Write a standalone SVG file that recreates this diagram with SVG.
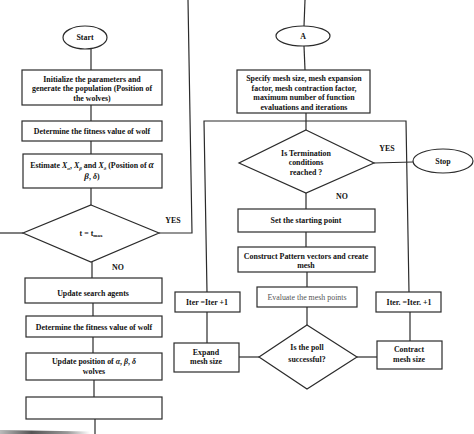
<svg xmlns="http://www.w3.org/2000/svg" width="474" height="434" viewBox="0 0 474 434">
<defs>
<style>
.s{fill:none;stroke:#2b2b2b;stroke-width:1.2}
.b{fill:#fff;stroke:#2b2b2b;stroke-width:1.2}
.t{font-family:"Liberation Serif","Times New Roman",serif;font-weight:bold;font-size:7.9px;text-anchor:middle;fill:#111}
.n{font-weight:normal;fill:#555}
.i{font-style:italic}
.sub{font-size:5px}
</style>
<linearGradient id="sh" x1="0" y1="0" x2="1" y2="0">
<stop offset="0" stop-color="#bbb"/>
<stop offset="0.35" stop-color="#555"/>
<stop offset="0.75" stop-color="#999"/>
<stop offset="1" stop-color="#fff"/>
</linearGradient>
</defs>
<rect width="474" height="434" fill="#fff"/>
<polygon points="0,430 90,431.5 90,434 0,434" fill="url(#sh)"/>

<g id="connectors" class="s">
<line x1="91" y1="49" x2="91" y2="70"/>
<line x1="91" y1="105" x2="91" y2="121"/>
<line x1="91" y1="141" x2="91" y2="154"/>
<line x1="91" y1="188" x2="91" y2="205"/>
<line x1="0" y1="233" x2="23" y2="233"/>
<polyline points="159,233 192,233 188,0"/>
<line x1="92" y1="262" x2="92" y2="278"/>
<line x1="93" y1="303" x2="93" y2="316"/>
<line x1="93" y1="337" x2="93" y2="353"/>
<line x1="94" y1="380" x2="94" y2="397"/>
<line x1="95" y1="419" x2="95" y2="434"/>

<line x1="305" y1="0" x2="304" y2="26"/>
<line x1="304" y1="46" x2="305" y2="70"/>
<line x1="306" y1="113" x2="306" y2="130"/>
<polyline points="207,292 204,121 406,121 409,292"/>
<line x1="374" y1="163" x2="413" y2="162"/>
<line x1="306" y1="193" x2="306" y2="209"/>
<line x1="306" y1="232" x2="306" y2="247"/>
<line x1="307" y1="272" x2="307" y2="287"/>
<line x1="307" y1="307" x2="307" y2="325"/>
<line x1="259" y1="357" x2="239" y2="357"/>
<line x1="357" y1="357" x2="377" y2="357"/>
<line x1="207" y1="312" x2="207" y2="343"/>
<line x1="410" y1="312" x2="410" y2="341"/>
</g>

<g id="start">
<ellipse class="b" cx="85" cy="37.5" rx="22" ry="11.5"/>
<text class="t" x="85" y="40">Start</text>
</g>
<g id="init">
<rect class="b" x="22" y="70" width="140" height="35"/>
<text class="t" x="92" y="81.5">Initialize the parameters and</text>
<text class="t" x="92" y="91">generate the population (Position of</text>
<text class="t" x="92" y="100.5">the wolves)</text>
</g>
<g id="fitness1">
<rect class="b" x="22" y="121" width="140" height="20"/>
<text class="t" x="92" y="133.5">Determine the fitness value of wolf</text>
</g>
<g id="estimate">
<rect class="b" x="23" y="154" width="139" height="34"/>
<text class="t" x="92" y="168">Estimate <tspan class="i">X</tspan><tspan class="sub i" dy="1.5">α</tspan><tspan dy="-1.5">, </tspan><tspan class="i">X</tspan><tspan class="sub i" dy="1.5">β</tspan><tspan dy="-1.5"> and </tspan><tspan class="i">X</tspan><tspan class="sub i" dy="1.5">δ</tspan><tspan dy="-1.5"> (Position of </tspan><tspan class="i" font-size="9.5">α</tspan></text>
<text class="t" x="92" y="179"><tspan class="i" font-size="9">β</tspan>, <tspan class="i">δ</tspan>)</text>
</g>
<g id="tmax">
<polygon class="b" points="91,205 159,233 91,262 23,233"/>
<text class="t" x="91" y="235.5" font-size="6.5">t = t<tspan class="sub" dy="1.5">max</tspan></text>
<text class="t" x="173" y="223">YES</text>
<text class="t" x="118" y="270">NO</text>
</g>
<g id="update">
<rect class="b" x="25" y="278" width="137" height="25"/>
<text class="t" x="93" y="295.5">Update search agents</text>
</g>
<g id="fitness2">
<rect class="b" x="26" y="316" width="136" height="21"/>
<text class="t" x="94" y="329.5">Determine the fitness value of wolf</text>
</g>
<g id="position">
<rect class="b" x="26" y="353" width="136" height="27"/>
<text class="t" x="94" y="364">Update position of <tspan class="i">α</tspan>, <tspan class="i">β</tspan>, <tspan class="i">δ</tspan></text>
<text class="t" x="94" y="374">wolves</text>
</g>
<g id="empty">
<rect class="b" x="26" y="397" width="136" height="22"/>
</g>

<g id="a">
<ellipse class="b" cx="303" cy="36" rx="27" ry="10"/>
<text class="t" x="303" y="38.5">A</text>
</g>
<g id="specify">
<rect class="b" x="237" y="70" width="133" height="43"/>
<text class="t" x="304" y="81">Specify mesh size, mesh expansion</text>
<text class="t" x="304" y="90.5">factor, mesh contraction factor,</text>
<text class="t" x="304" y="100">maximum number of function</text>
<text class="t" x="304" y="109.5">evaluations and iterations</text>
</g>
<g id="termination">
<polygon class="b" points="306,130 374,163 306,193 239,163"/>
<text class="t" x="306" y="155.5">Is Termination</text>
<text class="t" x="306" y="165">conditions</text>
<text class="t" x="306" y="174.5">reached ?</text>
<text class="t" x="387" y="151">YES</text>
<text class="t" x="342" y="199">NO</text>
</g>
<g id="stop">
<ellipse class="b" cx="443" cy="161" rx="30" ry="12"/>
<text class="t" x="443" y="163.5">Stop</text>
</g>
<g id="starting">
<rect class="b" x="238" y="209" width="137" height="23"/>
<text class="t" x="306" y="223">Set the starting point</text>
</g>
<g id="pattern">
<rect class="b" x="238" y="247" width="137" height="25"/>
<text class="t" x="306" y="258.5">Construct Pattern vectors and create</text>
<text class="t" x="306" y="268">mesh</text>
</g>
<g id="evaluate">
<rect class="b" x="257" y="287" width="100" height="20"/>
<text class="t n" x="307" y="299.5">Evaluate the mesh points</text>
</g>
<g id="poll">
<polygon class="b" points="307,325 357,357 307,389 259,357"/>
<text class="t" x="307" y="350">Is the poll</text>
<text class="t" x="307" y="362">successful?</text>
</g>
<g id="iter-left">
<rect class="b" x="175" y="292" width="65" height="20"/>
<text class="t" x="207" y="304.5">Iter =Iter +1</text>
</g>
<g id="expand">
<rect class="b" x="174" y="343" width="65" height="29"/>
<text class="t" x="206" y="354.5">Expand</text>
<text class="t" x="206" y="364">mesh size</text>
</g>
<g id="iter-right">
<rect class="b" x="376" y="292" width="65" height="20"/>
<text class="t" x="409" y="304.5">Iter. =Iter. +1</text>
</g>
<g id="contract">
<rect class="b" x="377" y="341" width="65" height="28"/>
<text class="t" x="409" y="352">Contract</text>
<text class="t" x="409" y="361.5">mesh size</text>
</g>
</svg>
